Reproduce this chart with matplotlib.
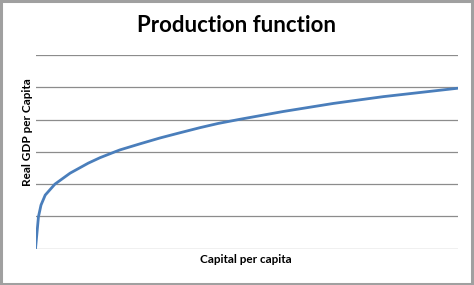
import matplotlib
matplotlib.use('Agg')
import matplotlib.pyplot as plt
from matplotlib.patches import Rectangle

# values
capital = [0, 0.7, 1.3, 2.3, 4.6, 8.2, 12.5, 15.3, 18.8, 20.0, 24.8, 29.5,
           34.2, 39.0, 43.3, 48.5, 58.7, 70.6, 82.4, 100]
gdp = [0, 0.99, 1.35, 1.66, 2.0, 2.34, 2.65, 2.82, 3.0, 3.06, 3.25, 3.43,
       3.59, 3.75, 3.88, 4.01, 4.25, 4.5, 4.71, 4.97]
grid_levels = [0, 1, 2, 3, 4, 5, 6]

plt.rcParams['font.family'] = ['Lato', 'DejaVu Sans']

fig = plt.figure(figsize=(4.74, 2.85), dpi=100)
ax = fig.add_axes([0.0749, 0.1274, 0.8903, 0.6796])

ax.plot(capital, gdp, color='#4a7ebb', linewidth=2.0, solid_capstyle='round',
        solid_joinstyle='round')
ax.set_xlim(0, 100)
ax.set_ylim(0, 6)
ax.set_yticks(grid_levels)
ax.set_xticks([])
ax.tick_params(left=False, labelleft=False)
ax.grid(axis='y', color='#8c8c8c', linewidth=0.9)
ax.set_axisbelow(True)
for s in ax.spines.values():
    s.set_visible(False)

fig.text(0.4994, 0.909, 'Production function', ha='center', va='center',
         fontsize=16, fontweight='bold')
fig.text(0.519, 0.088, 'Capital per capita', ha='center', va='center',
         fontsize=8.5, fontweight='bold')
fig.text(0.057, 0.537, 'Real GDP per Capita', ha='center', va='center',
         rotation=90, fontsize=8.5, fontweight='bold')

# grey frame around the whole chart
fig.patches.append(Rectangle((0.003, 0.005), 0.992, 0.99, transform=fig.transFigure,
                             fill=False, edgecolor='#a0a0a0', linewidth=2.2))

plt.savefig('out.png', dpi=100)
